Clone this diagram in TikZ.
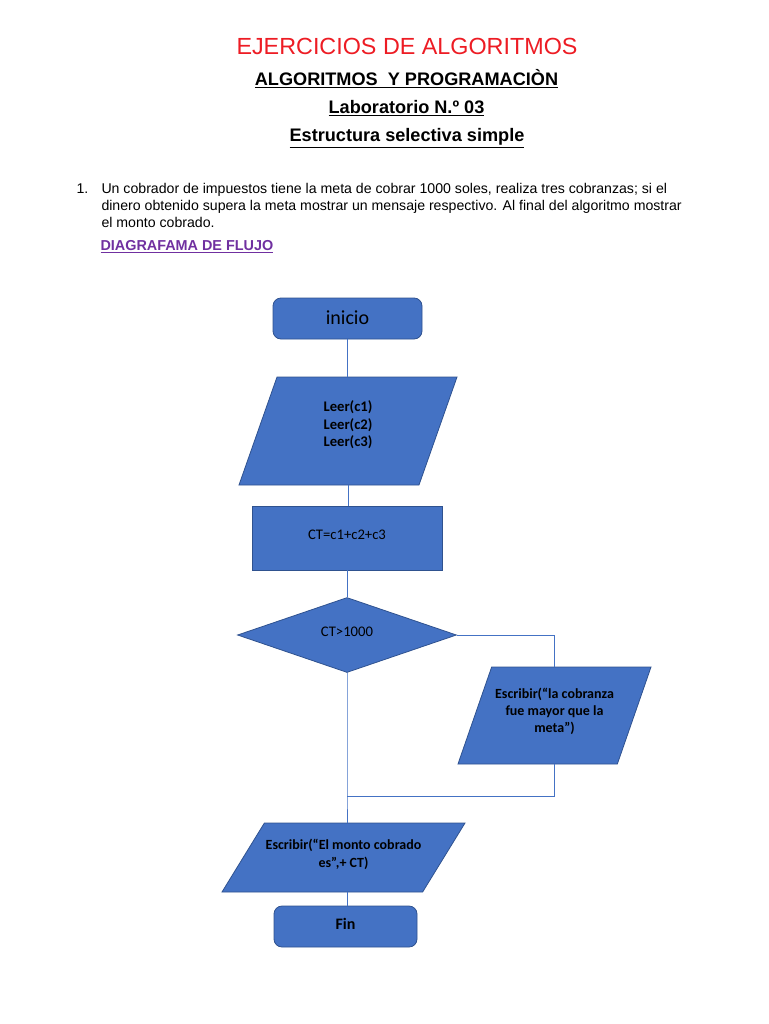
\documentclass[tikz,border=0pt]{standalone}
\usepackage{fontspec}
\setmainfont{Liberation Sans}
\newfontfamily\flowfont{Carlito}
\usetikzlibrary{shapes.geometric}

\definecolor{boxfill}{RGB}{68,114,196}
\definecolor{boxline}{RGB}{47,82,143}
\definecolor{titlered}{RGB}{237,28,36}
\definecolor{linkpurple}{RGB}{112,48,160}

\tikzset{every picture/.style={line width=0.75pt}}
\tikzset{
  flowbase/.style={draw=boxline, fill=boxfill, line width=0.6pt, inner sep=1pt},
  terminal/.style={flowbase, rectangle, rounded corners=6pt},
  procbox/.style={flowbase, rectangle},
  datain/.style={flowbase, trapezium, trapezium left angle=75, trapezium right angle=105, trapezium stretches=true},
  decision/.style={flowbase, diamond, aspect=2.9},
  flowtext/.style={inner sep=0.75pt, align=center, font=\flowfont\fontsize{11}{13}\selectfont},
  flowbold/.style={flowtext, font=\flowfont\bfseries\fontsize{10.5}{13}\selectfont},
  conn/.style={draw=boxfill, line width=0.75pt},
}

\begin{document}
\begin{tikzpicture}[x=0.75pt,y=0.75pt,yscale=-1,xscale=1]
        \useasboundingbox (0,0) rectangle (768,1024);

        % Text Node
        \draw (407,46) node (title) [inner sep=0.75pt] [font=\fontsize{17.5}{20}\selectfont, text=titlered] {EJERCICIOS DE ALGORITMOS};
        % Text Node
        \draw (406.5,79) node (course) [inner sep=0.75pt] [font=\bfseries\fontsize{13.6}{16}\selectfont] {\underline{ALGORITMOS~ Y PROGRAMACIÒN}};
        % Text Node
        \draw (406.5,108) node (lab) [inner sep=0.75pt] [font=\bfseries\fontsize{13.6}{16}\selectfont] {\underline{Laboratorio N.º 03}};
        % Text Node
        \draw (407,138) node (topic) [inner sep=0.75pt] [font=\bfseries\fontsize{13.6}{16}\selectfont] {\underline{Estructura selectiva simple}};

        % Text Node
        \draw (75,189) node (num) [anchor=west][inner sep=0.75pt] [font=\fontsize{10.6}{12.75}\selectfont] {1.};
        % Text Node
        \draw (100,182) node (task) [anchor=north west][inner sep=0.75pt] [align=left, font=\fontsize{10.6}{12.75}\selectfont] {Un cobrador de impuestos tiene la meta de cobrar 1000 soles, realiza tres cobranzas; si el\\dinero obtenido supera la meta mostrar un mensaje respectivo. Al final del algoritmo mostrar\\el monto cobrado.};
        % Text Node
        \draw (99,247) node (subtitle) [anchor=west][inner sep=0.75pt] [font=\bfseries\fontsize{10.8}{12}\selectfont, text=linkpurple] {\underline{DIAGRAFAMA DE FLUJO}};

        %Shape: Rounded Rect
        \draw (347.5,318.5) node (ini) [terminal, minimum width=111.75pt, minimum height=30.75pt] {};
        \draw (ini.center) ++(0,-1) node (initxt) [flowtext, font=\flowfont\fontsize{15}{18}\selectfont] {inicio};
        %Shape: Parallelogram
        \draw (348,431) node (leer) [datain, minimum width=163.5pt, minimum height=81pt] {};
        \draw (leer.center) ++(0,-6) node (leertxt) [flowbold, font=\flowfont\bfseries\fontsize{11}{13.2}\selectfont] {Leer(c1)\\Leer(c2)\\Leer(c3)};
        %Shape: Rectangle
        \draw (347,538) node (suma) [procbox, minimum width=142.5pt, minimum height=48pt] {};
        \draw (suma.center) ++(0,-3) node (sumatxt) [flowtext] {CT=c1+c2+c3};
        %Shape: Diamond
        \draw (347,635) node (dec) [decision, minimum width=164.25pt, minimum height=56.25pt] {};
        \draw (dec.center) ++(0,-3) node (dectxt) [flowtext] {CT>1000};
        %Shape: Parallelogram
        \draw (554.5,715.5) node (msg) [datain, minimum width=144.75pt, minimum height=72.75pt] {};
        \draw (msg.center) ++(0,-4) node (msgtxt) [flowbold] {Escribir(“la cobranza\\fue mayor que la\\meta”)};
        %Shape: Parallelogram
        \draw (343.5,857.5) node (monto) [datain, minimum width=182.25pt, minimum height=51.75pt] {};
        \draw (monto.center) ++(0,-3) node (montotxt) [flowbold] {Escribir(“El monto cobrado\\es”,+ CT)};
        %Shape: Rounded Rect
        \draw (345.5,926.5) node (fin) [terminal, minimum width=107.25pt, minimum height=30.75pt] {};
        \draw (fin.center) ++(0,-3) node (fintxt) [flowbold, font=\flowfont\bfseries\fontsize{12}{14}\selectfont] {Fin};

        \coordinate (junta) at (347,796);

        %Straight Lines
        \draw [conn] (ini.south) -- (ini.south |- leer.north);
        \draw [conn] (leer.south) -- (leer.south |- suma.north);
        \draw [conn] (suma.south) -- (suma.south |- dec.north);
        \draw [conn] (dec.east) -| (msg.center |- msg.north);
        \draw [conn] (msg.center |- msg.south) |- (junta);
        \draw [conn] (dec.south) -- (junta) -- (junta |- monto.north);
        \draw [conn] (monto.south -| junta) -- (junta |- fin.north);

    \end{tikzpicture}
\end{document}
